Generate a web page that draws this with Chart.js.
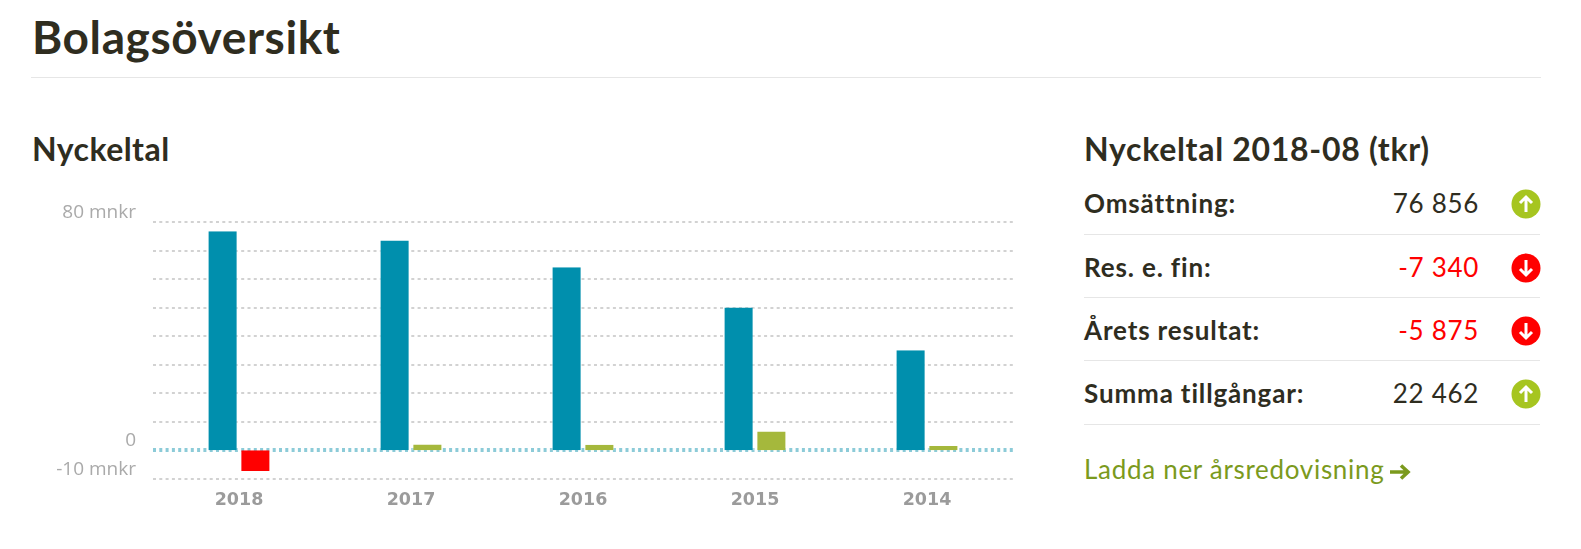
<!DOCTYPE html>
<html lang="sv">
<head>
<meta charset="utf-8">
<title>Bolagsöversikt</title>
<script src="https://cdn.jsdelivr.net/npm/chart.js@4"></script>
<style>
html,body{margin:0;padding:0;background:#fff;}
body{width:1581px;height:549px;position:relative;overflow:hidden;font-family:Lato,"Noto Sans",sans-serif;color:#2f2d1f;}
.t{position:absolute;white-space:nowrap;line-height:1;}
.line{position:absolute;height:1px;background:#e6e6e6;}
#wrap{position:absolute;left:0;top:200px;width:1030px;height:310px;}
</style>
</head>
<body>
<div class="t" style="left:32px;top:14px;font-size:46px;font-weight:700;letter-spacing:.6px;">Bolagsöversikt</div>
<div class="line" style="left:31px;top:77px;width:1510px;"></div>
<div class="t" style="left:32px;top:133px;font-size:32px;font-weight:700;letter-spacing:.45px;">Nyckeltal</div>
<div class="t" style="left:1084px;top:133px;font-size:32px;font-weight:700;letter-spacing:.7px;">Nyckeltal 2018-08 (tkr)</div>
<div id="wrap"><canvas id="c" width="1030" height="310"></canvas></div>
<div id="rows"></div>
<div class="t" style="left:1084px;top:456px;font-size:26px;color:#7b9a1d;letter-spacing:.7px;">Ladda ner årsredovisning</div>
<svg style="position:absolute;left:1389px;top:462px" width="22" height="20" viewBox="0 0 22 20"><path d="M1 10H19M12 3.5L19 10L12 16.5" fill="none" stroke="#7b9a1d" stroke-width="3.6"/></svg>
<script>
const categories = ["2018", "2017", "2016", "2015", "2014"];
const revenue = [76.9, 73.6, 64.2, 50.1, 35.1];
const result = [-7.3, 2.0, 1.9, 6.6, 1.5];
const yLabels = {"80": "80 mnkr", "0": "0", "-10": "-10 mnkr"};

const rowLabels = ["Omsättning:", "Res. e. fin:", "Årets resultat:", "Summa tillgångar:"];
const rowValues = ["76 856", "-7 340", "-5 875", "22 462"];
const rowTrends = ["up", "down", "down", "up"];
const rowTops = [190, 254, 317, 380];
const circleY = [204, 268, 331, 394];
const lineY = [234, 297, 360, 424];

const rows = document.getElementById("rows");
let html = "";
rowLabels.forEach((label, i) => {
  const up = rowTrends[i] === "up";
  const neg = rowValues[i].startsWith("-");
  html += `<div class="t" style="left:1084px;top:${rowTops[i]}px;font-size:26px;font-weight:700;letter-spacing:.85px;">${label}</div>`;
  html += `<div class="t" style="right:${1581-1479}px;top:${rowTops[i]}px;font-size:26px;letter-spacing:.7px;color:${neg ? "#ff0000" : "#2f2d1f"};">${rowValues[i]}</div>`;
  const arrow = up ? "M0 8V-7M-6 -1L0 -7L6 -1" : "M0 -8V7M-6 1L0 7L6 1";
  html += `<svg style="position:absolute;left:${1526-15}px;top:${circleY[i]-15}px" width="30" height="30" viewBox="-15 -15 30 30"><circle r="14.5" fill="${up ? "#a6c520" : "#ff0000"}"/><path d="${arrow}" fill="none" stroke="#fff" stroke-width="3"/></svg>`;
  html += `<div class="line" style="left:1084px;top:${lineY[i]}px;width:456px;"></div>`;
});
rows.innerHTML = html;

const isZero = ctx => ctx.tick && ctx.tick.value === 0;
const sideBorder = {left: 1, right: 1, top: 0, bottom: 0};
const zeroLine = {
  id: "zeroLine",
  beforeDatasetsDraw(chart) {
    const {ctx, chartArea, scales} = chart;
    const y = Math.round(scales.y.getPixelForValue(0));
    ctx.save();
    ctx.strokeStyle = "#8ccbd8";
    ctx.lineWidth = 4;
    ctx.setLineDash([3, 3.3]);
    ctx.beginPath();
    ctx.moveTo(chartArea.left, y);
    ctx.lineTo(chartArea.right, y);
    ctx.stroke();
    ctx.restore();
  }
};
new Chart(document.getElementById("c"), {
  type: "bar",
  plugins: [zeroLine],
  data: {
    labels: categories,
    datasets: [
      {data: revenue, backgroundColor: "#008fad", borderColor: "rgba(255,255,255,0.75)", borderWidth: sideBorder},
      {data: result, backgroundColor: result.map(v => v < 0 ? "#ff0000" : "#a5b83c"), borderColor: "rgba(255,255,255,0.75)", borderWidth: sideBorder}
    ]
  },
  options: {
    responsive: false,
    animation: false,
    events: [],
    categoryPercentage: 0.381,
    barPercentage: 0.916,
    layout: {padding: {top: 22.3, right: 17, left: 0, bottom: 0}},
    plugins: {legend: {display: false}, tooltip: {enabled: false}},
    scales: {
      x: {
        grid: {display: false},
        border: {display: false},
        ticks: {color: "#9b9b9b", font: {family: "'DejaVu Sans'", size: 17.5, weight: "bold"}, padding: 3, maxRotation: 0},
        afterFit: s => { s.height = 31.3; s.paddingLeft = 0; s.paddingRight = 0; }
      },
      y: {
        min: -10,
        max: 80,
        border: {display: false, dash: [3, 3.3]},
        grid: {
          drawTicks: false,
          color: "#d2d2d2",
          lineWidth: ctx => isZero(ctx) ? 0 : 2
        },
        ticks: {
          stepSize: 10,
          align: "end",
          padding: 17,
          color: "#aaaaaa",
          font: {family: "'Open Sans'", size: 19},
          callback: v => yLabels[String(v)] || ""
        },
        afterFit: s => { s.width = 153; s.paddingTop = 0; s.paddingBottom = 0; }
      }
    }
  }
});
</script>
</body>
</html>
